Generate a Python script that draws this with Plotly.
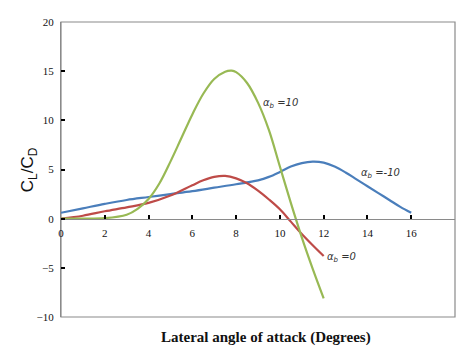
import plotly.graph_objects as go

# Data
x_green = [0, 1, 2, 3, 3.5, 4, 4.5, 5, 5.5, 6, 6.5, 7, 7.5, 7.8, 8, 8.5, 9, 9.5, 10, 10.5, 11, 11.5, 12]
y_green = [0, 0, 0.05, 0.4, 1.0, 2.0, 3.6, 5.8, 8.2, 10.6, 12.7, 14.2, 14.95, 15.05, 14.9, 13.8, 11.8, 9.0, 5.3, 1.6, -1.9, -5.1, -8.1]

x_blue = [0, 1, 2, 3, 4, 5, 6, 7, 8, 9, 9.5, 10, 10.5, 11, 11.5, 12, 12.5, 13, 13.5, 14, 14.5, 15, 15.5, 16]
y_blue = [0.6, 1.05, 1.5, 1.9, 2.2, 2.5, 2.8, 3.15, 3.5, 3.9, 4.25, 4.75, 5.3, 5.65, 5.8, 5.7, 5.3, 4.7, 4.0, 3.3, 2.6, 1.9, 1.2, 0.6]

x_red = [0, 1, 2, 3, 4, 5, 6, 6.5, 7, 7.5, 8, 8.5, 9, 9.5, 10, 10.5, 11, 11.5, 12]
y_red = [0, 0.3, 0.75, 1.15, 1.6, 2.35, 3.4, 3.9, 4.25, 4.35, 4.1, 3.6, 2.85, 1.95, 0.95, -0.3, -1.55, -2.7, -3.8]

x_ticks = [0, 2, 4, 6, 8, 10, 12, 14, 16]
y_ticks = [-10, -5, 0, 5, 10, 15, 20]

labels = ["α<sub>b</sub> =10", "α<sub>b</sub> =-10", "α<sub>b</sub> =0"]
label_x = [9.15, 13.6, 12.05]
label_y = [11.7, 4.55, -3.95]

fig = go.Figure()
fig.add_trace(go.Scatter(x=x_blue, y=y_blue, mode="lines",
                         line=dict(color="#4A7EBB", width=2.2, shape="spline")))
fig.add_trace(go.Scatter(x=x_red, y=y_red, mode="lines",
                         line=dict(color="#BE4B48", width=2.2, shape="spline")))
fig.add_trace(go.Scatter(x=x_green, y=y_green, mode="lines",
                         line=dict(color="#98B954", width=2.2, shape="spline")))

for t, lx, ly in zip(labels, label_x, label_y):
    fig.add_annotation(x=lx, y=ly, text="<i>" + t + "</i>", showarrow=False,
                       xanchor="left", yanchor="middle",
                       font=dict(family="DejaVu Sans", size=10, color="#333333"))

# frame
fig.add_shape(type="rect", xref="x domain", yref="y domain", x0=0, x1=1, y0=0, y1=1,
              line=dict(color="#8a8a8a", width=1.2), layer="below")

fig.add_annotation(xref="paper", yref="paper", x=0.52, y=-0.068, yanchor="middle",
                   text="<b>Lateral angle of attack (Degrees)</b>", showarrow=False,
                   font=dict(family="Liberation Serif", size=15, color="#111111"))
fig.add_annotation(xref="paper", yref="paper", x=-0.115, y=0.5, textangle=-90,
                   text="C<sub>L</sub>/C<sub>D</sub>", showarrow=False,
                   font=dict(family="Liberation Sans", size=17, color="#111111"))

fig.update_layout(
    width=474, height=348,
    margin=dict(l=61, r=19, t=22, b=31),
    paper_bgcolor="white", plot_bgcolor="white",
    showlegend=False,
    xaxis=dict(range=[0, 18], tickvals=x_ticks, ticks="inside", ticklen=4, tickwidth=2,
               tickcolor="black", showline=True, linecolor="#8a8a8a", linewidth=1.2,
               showgrid=False, zeroline=False, anchor="free", position=1/3,
               ticklabelstandoff=4,
               tickfont=dict(family="Liberation Serif", size=11, color="#111111"),
               tickprefix="<b>", ticksuffix="</b>"),
    yaxis=dict(range=[-10, 20], tickvals=y_ticks, ticks="inside", ticklen=4, tickwidth=2,
               tickcolor="black", showline=True, linecolor="#8a8a8a", linewidth=1.2,
               showgrid=False, zeroline=False, ticklabelstandoff=4,
               tickfont=dict(family="Liberation Serif", size=11, color="#111111"),
               tickprefix="<b>", ticksuffix="</b>"),
)

fig.write_html("out.html")
